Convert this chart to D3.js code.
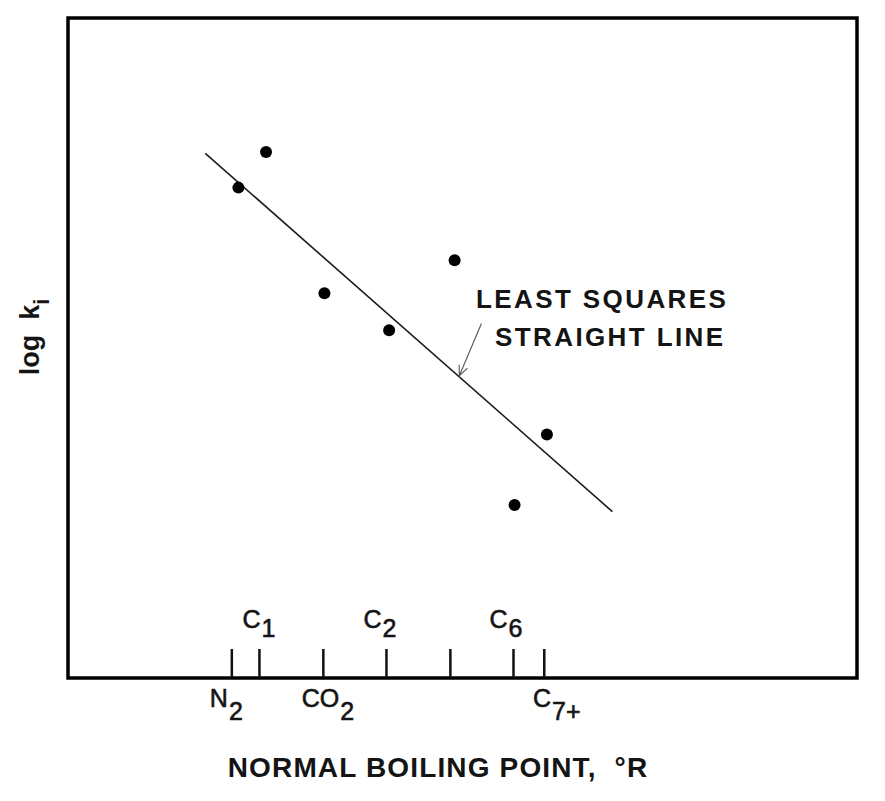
<!DOCTYPE html>
<html>
<head>
<meta charset="utf-8">
<script src="https://cdn.jsdelivr.net/npm/d3@7"></script>
<style>
  html, body { margin: 0; padding: 0; background: #fff; }
  svg { display: block; }
  text { font-family: "Liberation Sans", Arial, sans-serif; font-weight: bold; fill: #141414; white-space: pre; }
  text.tick-label { font-weight: normal; stroke: #141414; stroke-width: 0.6; }
</style>
</head>
<body>
<svg id="chart" width="885" height="801"></svg>
<script>
// boiling point axis (schematic, deg R) and component ticks
const tickBoilingPoints = [207, 242, 323, 403, 484, 564, 603];
const tickLabelBase = ["N", "C", "CO", "C", "", "C", "C"];
const tickLabelSub = ["2", "1", "2", "2", "", "6", "7+"];
const tickLabelSide = ["below", "above", "below", "above", "", "above", "below"];

// measured points: boiling point vs log k
const pointBoilingPoints = [216, 251, 325, 407, 490, 566, 607];
const pointLogK = [7.43, 7.97, 5.83, 5.27, 6.33, 2.62, 3.69];

// least squares line end points
const fitBoilingPoints = [174, 690];
const fitLogK = [7.95, 2.52];

// annotation arrow: tail, head (on the line)
const arrowBoilingPoints = [524, 496];
const arrowLogK = [5.37, 4.58];
const noteLines = ["LEAST SQUARES", "STRAIGHT LINE"];

const svg = d3.select('#chart');
const frame = {x: 68, y: 18, width: 789, height: 660};

const x = d3.scaleLinear().domain([0, 1000]).range([frame.x, frame.x + frame.width]);
const y = d3.scaleLinear().domain([0, 10]).range([frame.y + frame.height, frame.y]);

// frame
svg.append('rect')
    .attr('x', frame.x)
    .attr('y', frame.y)
    .attr('width', frame.width)
    .attr('height', frame.height)
    .attr('fill', 'none')
    .attr('stroke', '#000')
    .attr('stroke-width', 3.5);

// ticks on the bottom edge, pointing inward
const axis = d3.axisTop(x)
    .tickValues(tickBoilingPoints)
    .tickSize(29)
    .tickFormat('');
const axisG = svg.append('g')
    .attr('transform', 'translate(0,' + (frame.y + frame.height) + ')')
    .call(axis);
axisG.select('.domain').remove();
axisG.selectAll('.tick line')
    .attr('stroke', '#111')
    .attr('stroke-width', 2.5);

// tick labels with subscripts
const nudge = [-5, 0, 5, -6, 0, -7, 13];
tickBoilingPoints.forEach(function (bp, i) {
    if (!tickLabelBase[i]) return;
    const above = tickLabelSide[i] === 'above';
    const t = svg.append('text')
        .attr('class', 'tick-label')
        .attr('x', x(bp) + nudge[i])
        .attr('y', above ? 628 : 707)
        .attr('text-anchor', 'middle')
        .attr('font-size', 25);
    t.append('tspan').text(tickLabelBase[i]);
    t.append('tspan')
        .attr('dy', above ? 9 : 13)
        .attr('dx', 1)
        .text(tickLabelSub[i]);
});

// least squares line
svg.append('line')
    .attr('x1', x(fitBoilingPoints[0]))
    .attr('y1', y(fitLogK[0]))
    .attr('x2', x(fitBoilingPoints[1]))
    .attr('y2', y(fitLogK[1]))
    .attr('stroke', '#1a1a1a')
    .attr('stroke-width', 1.6);

// points
svg.selectAll('circle.pt')
    .data(pointBoilingPoints)
    .enter().append('circle')
    .attr('class', 'pt')
    .attr('cx', function (d) { return x(d); })
    .attr('cy', function (d, i) { return y(pointLogK[i]); })
    .attr('r', 6)
    .attr('fill', '#000');

// annotation arrow (open head)
const ax1 = x(arrowBoilingPoints[0]), ay1 = y(arrowLogK[0]);
const ax2 = x(arrowBoilingPoints[1]), ay2 = y(arrowLogK[1]);
const ang = Math.atan2(ay2 - ay1, ax2 - ax1);
const headLen = 11, headSpread = 0.42;
const arrowPath = d3.path();
arrowPath.moveTo(ax1, ay1);
arrowPath.lineTo(ax2, ay2);
arrowPath.moveTo(ax2 - headLen * Math.cos(ang - headSpread), ay2 - headLen * Math.sin(ang - headSpread));
arrowPath.lineTo(ax2, ay2);
arrowPath.lineTo(ax2 - headLen * Math.cos(ang + headSpread), ay2 - headLen * Math.sin(ang + headSpread));
svg.append('path')
    .attr('d', arrowPath.toString())
    .attr('fill', 'none')
    .attr('stroke', '#555')
    .attr('stroke-width', 1.1);

// annotation text
svg.append('text')
    .attr('x', 476)
    .attr('y', 308)
    .attr('font-size', 26)
    .attr('letter-spacing', 2.4)
    .text(noteLines[0]);
svg.append('text')
    .attr('x', 495)
    .attr('y', 346)
    .attr('font-size', 26)
    .attr('letter-spacing', 2.4)
    .text(noteLines[1]);

// axis titles
svg.append('text')
    .attr('x', 438)
    .attr('y', 777)
    .attr('text-anchor', 'middle')
    .attr('font-size', 28)
    .attr('letter-spacing', 1.15)
    .text('NORMAL BOILING POINT,  \u00B0R');

const yl = svg.append('text')
    .attr('transform', 'translate(39,337) rotate(-90)')
    .attr('text-anchor', 'middle')
    .attr('font-size', 27);
yl.append('tspan').text('log  k');
yl.append('tspan')
    .attr('dy', 10)
    .attr('font-size', 22)
    .text('i');
</script>
</body>
</html>
